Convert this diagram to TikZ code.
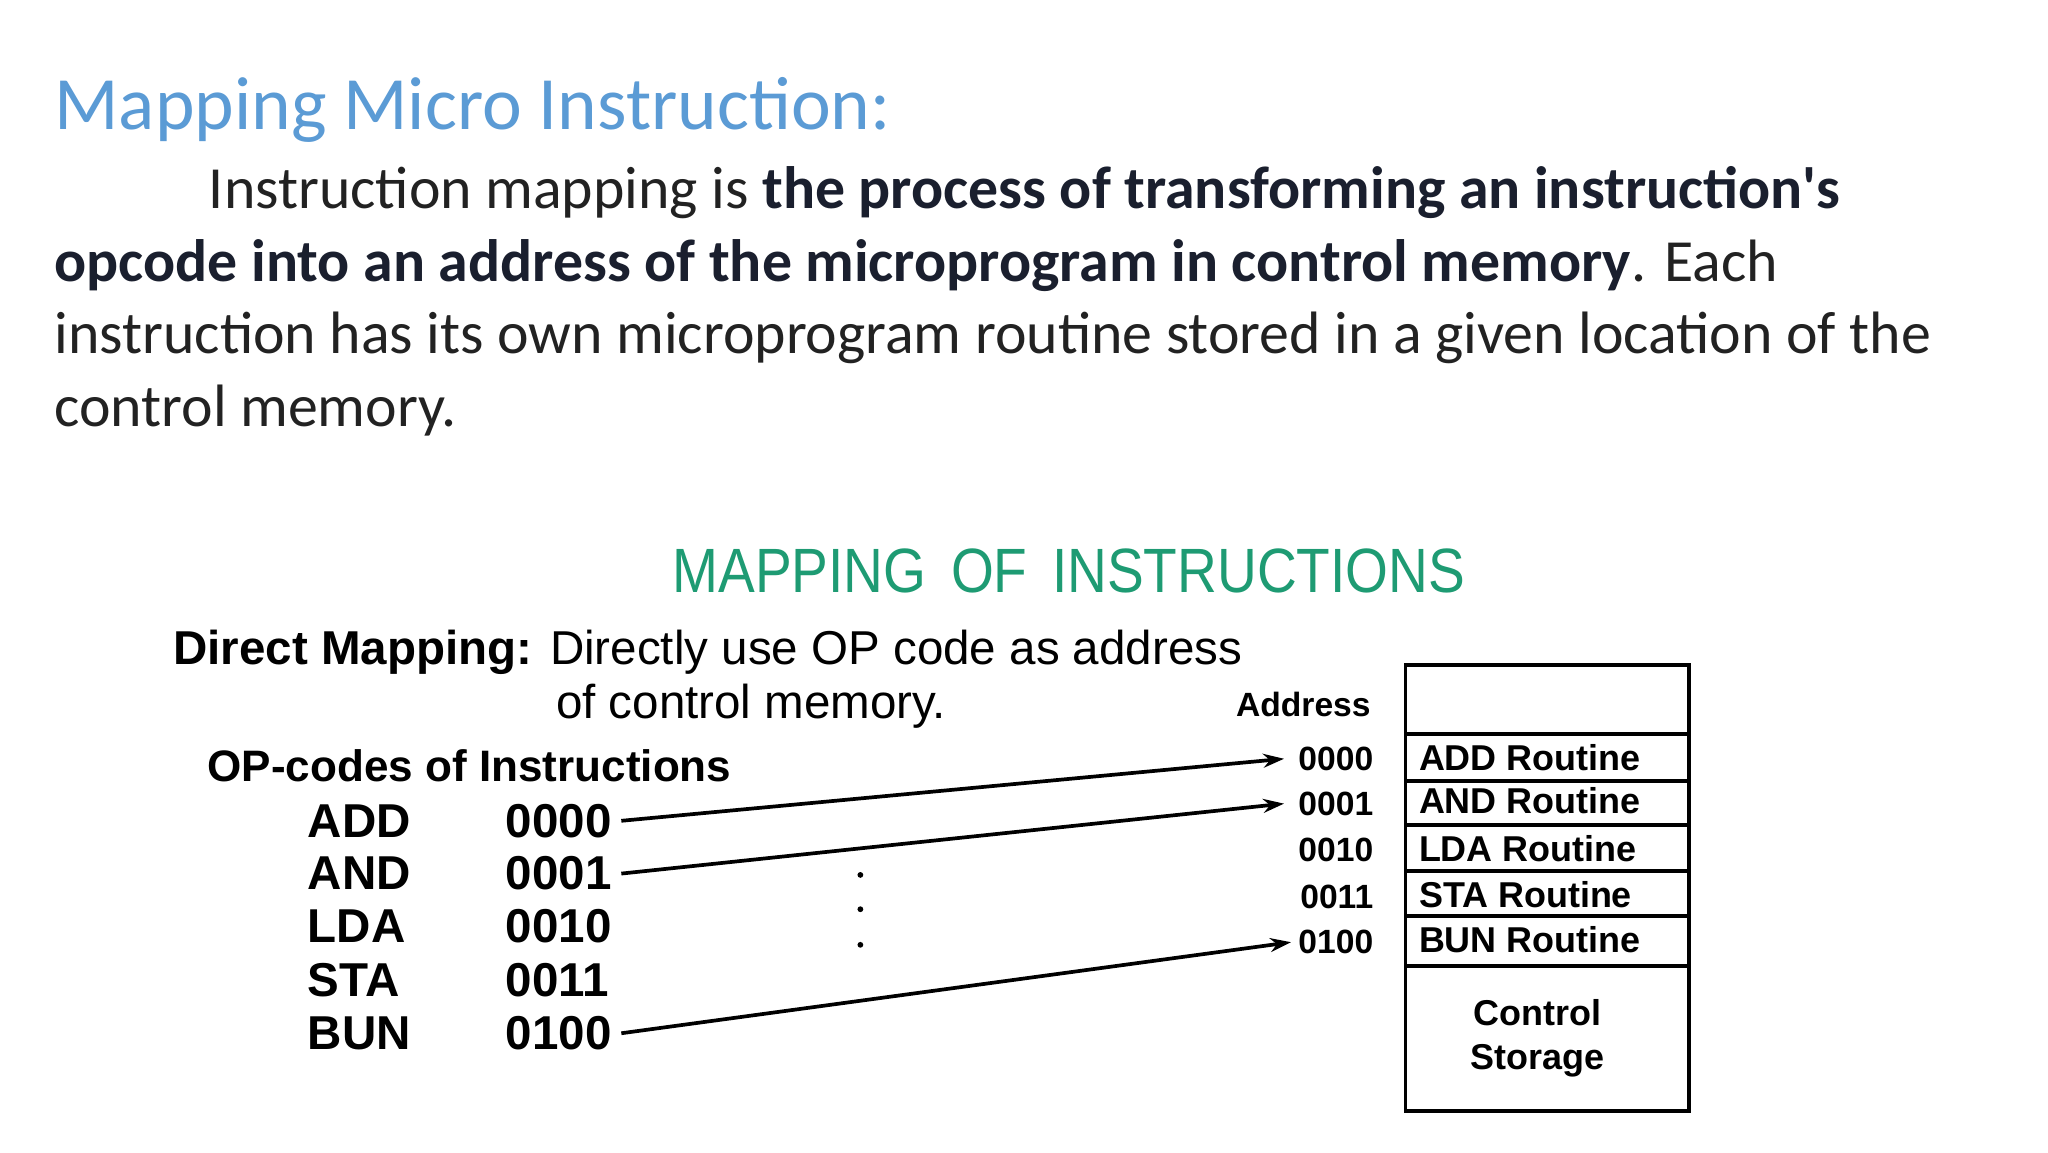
\documentclass[tikz,border=0pt]{standalone}
\usepackage{fontspec}
\setmainfont{Carlito}
\newfontfamily\arial{Liberation Sans}
\usetikzlibrary{arrows.meta}
\definecolor{ttl}{HTML}{5B9BD5}
\definecolor{grn}{HTML}{1E9B73}
\definecolor{txt}{HTML}{222222}
\definecolor{bld}{HTML}{1A1F2E}
\begin{document}
\begin{tikzpicture}[x=0.02cm,y=-0.02cm,
  para/.style={anchor=base west,inner sep=0,font=\fontsize{25.8}{30}\selectfont,text=txt},
  dg/.style={inner sep=0,font=\arial\fontsize{20.5}{24}\selectfont},
  dgb/.style={inner sep=0,font=\arial\bfseries\fontsize{19}{22}\selectfont},
  sm/.style={inner sep=0,font=\arial\bfseries\fontsize{14.5}{17}\selectfont},
  arr/.style={line width=1.6pt,-{Stealth[length=9pt,width=6pt]}}]
\useasboundingbox (0,0) rectangle (1552,873);
\fill[white] (0,0) rectangle (1552,873);
\node[anchor=base west,inner sep=0,font=\fontsize{32.5}{36}\selectfont,text=ttl] (title) at (41,98) {Mapping Micro Instruction:};
\node[para] (p1) at (158,158) {Instruction mapping is \textbf{\color{bld}the process of transforming an instruction\textquotesingle s}};
\node[para] (p2) at (41,213) {\textbf{\color{bld}opcode into an address of the microprogram in control memory}. Each};
\node[para] (p3) at (41,268) {instruction has its own microprogram routine stored in a given location of the};
\node[para] (p4) at (41,323) {control memory.};
\node[inner sep=0,text=grn,font=\arial\fontsize{27}{30}\selectfont] (head) at (810,433) {\scalebox{0.88}[1]{MAPPING\, OF\, INSTRUCTIONS}};
\node[dg,anchor=west] (dm) at (131,494) {\textbf{Direct Mapping:} Directly use OP code as address};
\node[dg,anchor=west] (dm2) at (421,535) {of control memory.};
\node[dgb,anchor=west] (oph) at (157,580) {OP-codes of Instructions};
\foreach \n/\c/\y/\i in {ADD/0000/622/1,AND/0001/662/2,LDA/0010/702/3,STA/0011/743/4,BUN/0100/783/5}{
  \node[dgb,anchor=west,font=\arial\bfseries\fontsize{20.5}{24}\selectfont] (n\i) at (233,\y) {\n};
  \node[dgb,anchor=west,font=\arial\bfseries\fontsize{20.5}{24}\selectfont] (c\i) at (383,\y) {\c};
}
\foreach \y/\i in {663/1,689/2,716/3}{\fill (652,\y) circle (2.2) coordinate (d\i);}
\node[sm,anchor=east] (addr) at (1039,534) {Address};
\foreach \c/\y/\i in {0000/575/1,0001/609/2,0010/644/3,0011/680/4,0100/714/5}{
  \node[sm,anchor=east] (a\i) at (1041,\y) {\c};
}
\draw[line width=1.6pt] (1065,504) rectangle (1280,842);
\foreach \y in {556,592,625,660,694,732}{\draw[line width=1.6pt] (1065,\y) -- (1280,\y);}
\foreach \t/\y/\i in {ADD/574/1,AND/607/2,LDA/643/3,STA/678/4,BUN/712/5}{
  \node[sm,anchor=west,font=\arial\bfseries\fontsize{15.5}{17}\selectfont] (r\i) at (1075,\y) {\t{} Routine};
}
\node[sm,align=center,font=\arial\bfseries\fontsize{15.5}{19}\selectfont] (cs) at (1165,787) {Control\\Storage};
\draw[arr] ([xshift=4]c1.east) -- ([xshift=-6]a1.west);
\draw[arr] ([xshift=4]c2.east) -- ([xshift=-6]a2.west);
\draw[arr] ([xshift=4]c5.east) -- ([xshift=-3]a5.west);
\end{tikzpicture}
\end{document}
